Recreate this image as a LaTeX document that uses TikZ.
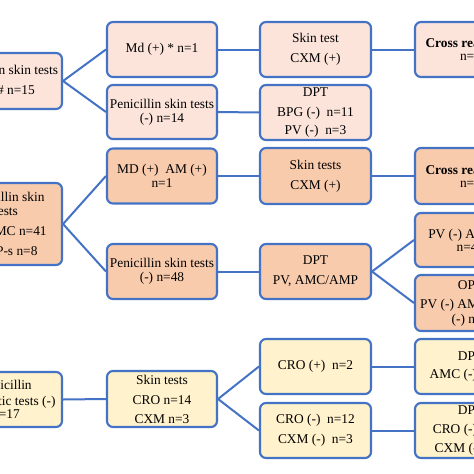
\documentclass[tikz,border=0pt]{standalone}
\usepackage{fontspec}
\setmainfont{Liberation Serif}
\definecolor{edgeblue}{HTML}{4472C4}
\definecolor{pinkfill}{HTML}{FCE4DB}
\definecolor{salmonfill}{HTML}{F8CBAD}
\definecolor{yellowfill}{HTML}{FFF2CC}
\tikzset{
  box/.style={draw=edgeblue, line width=2.1pt, rounded corners=6pt, align=center,
    inner sep=0pt, font=\fontsize{13.4}{20}\selectfont},
  pinkbox/.style={box, fill=pinkfill},
  salmonbox/.style={box, fill=salmonfill},
  yellowbox/.style={box, fill=yellowfill},
  link/.style={draw=edgeblue, line width=2pt}
}
\begin{document}
\begin{tikzpicture}[x=1pt,y=-1pt]
\useasboundingbox (0,0) rectangle (474,474);
\clip (0,0) rectangle (474,474);
\fill[white] (0,0) rectangle (474,474);
% ---- group 1 ----
\node[pinkbox, minimum width=112pt, minimum height=56pt] (L1) at (6,81) {Penicillin skin tests\\(+) \# n=15};
\node[pinkbox, minimum width=110pt, minimum height=55pt] (A1) at (162,49.5) {Md (+) * n=1};
\node[pinkbox, minimum width=110pt, minimum height=54pt] (B1) at (162,112) {Penicillin skin tests\\[-6pt](-) n=14};
\node[pinkbox, minimum width=111pt, minimum height=55pt] (SA1) at (315.5,49.5) {Skin test\\CXM (+)};
\node[pinkbox, minimum width=111pt, minimum height=55pt] (SB1) at (315.5,112.5) {DPT\\BPG (-)\ \ n=11\\[-2pt]PV (-)\ \ n=3};
\node[pinkbox, minimum width=111pt, minimum height=55pt] (X1) at (470.5,49.5) {\textbf{Cross reactivity}\\[-7pt]n=1};
% ---- group 2 ----
\node[salmonbox, minimum width=112pt, minimum height=82pt] (L2) at (6,224) {Penicillin skin\\[-6pt]tests\\(+) AMC n=41\\AMP-s n=8};
\node[salmonbox, minimum width=110pt, minimum height=55pt] (A2) at (162,176) {MD (+)\ \ AM (+)\\[-6pt]n=1};
\node[salmonbox, minimum width=110pt, minimum height=55pt] (B2) at (162,271.5) {Penicillin skin tests\\[-6pt](-) n=48};
\node[salmonbox, minimum width=111pt, minimum height=56pt] (SA2) at (315.5,176) {Skin tests\\CXM (+)};
\node[salmonbox, minimum width=111pt, minimum height=55pt] (SB2) at (315.5,271.5) {DPT\\PV, AMC/AMP};
\node[salmonbox, minimum width=111pt, minimum height=56pt] (X2) at (470.5,176) {\textbf{Cross reactivity}\\[-7pt]n=1};
\node[salmonbox, minimum width=111pt, minimum height=54pt] (P2) at (470.5,240) {PV (-) AMC (-)\\[-7pt]n=44};
\node[salmonbox, minimum width=111pt, minimum height=56pt] (O2) at (470.5,303) {OPT\\[-1pt]PV (-) AMC/AMP\\[-5pt](-) n=4};
% ---- group 3 ----
\node[yellowbox, minimum width=112pt, minimum height=55pt] (L3) at (6,399.5) {Penicillin\\[-4pt]diagnostic tests (-)\\[-7pt]n=17};
\node[yellowbox, minimum width=110pt, minimum height=56pt] (R3) at (162,399) {Skin tests\\CRO n=14\\[-1pt]CXM n=3};
\node[yellowbox, minimum width=111pt, minimum height=55pt] (RA3) at (315.5,366.5) {CRO (+)\ \ n=2};
\node[yellowbox, minimum width=111pt, minimum height=55pt] (RB3) at (315.5,430.5) {CRO (-)\ \ n=12\\CXM (-)\ \ n=3};
\node[yellowbox, minimum width=111pt, minimum height=55pt] (DA3) at (470.5,366.5) {DPT\\[-2pt]AMC (-)\quad n=2};
\node[yellowbox, minimum width=111pt, minimum height=55pt] (DB3) at (470.5,430.5) {DPT\\[-1pt]CRO (-)\ n=12\\[-1pt]CXM (-)\ n=3};
% ---- connectors ----
\draw[link] (L1.east) -- (A1.west);
\draw[link] (L1.east) -- (B1.west);
\draw[link] (A1.east) -- (SA1.west);
\draw[link] (B1.east) -- (SB1.west);
\draw[link] (SA1.east) -- (X1.west);
\draw[link] (L2.east) -- (A2.west);
\draw[link] (L2.east) -- (B2.west);
\draw[link] (A2.east) -- (SA2.west);
\draw[link] (B2.east) -- (SB2.west);
\draw[link] (SA2.east) -- (X2.west);
\draw[link] (SB2.east) -- (P2.west);
\draw[link] (SB2.east) -- (O2.west);
\draw[link] (L3.east) -- (R3.west);
\draw[link] (R3.east) -- (RA3.west);
\draw[link] (R3.east) -- (RB3.west);
\draw[link] (RA3.east) -- (DA3.west);
\draw[link] (RB3.east) -- (DB3.west);
\end{tikzpicture}
\end{document}
